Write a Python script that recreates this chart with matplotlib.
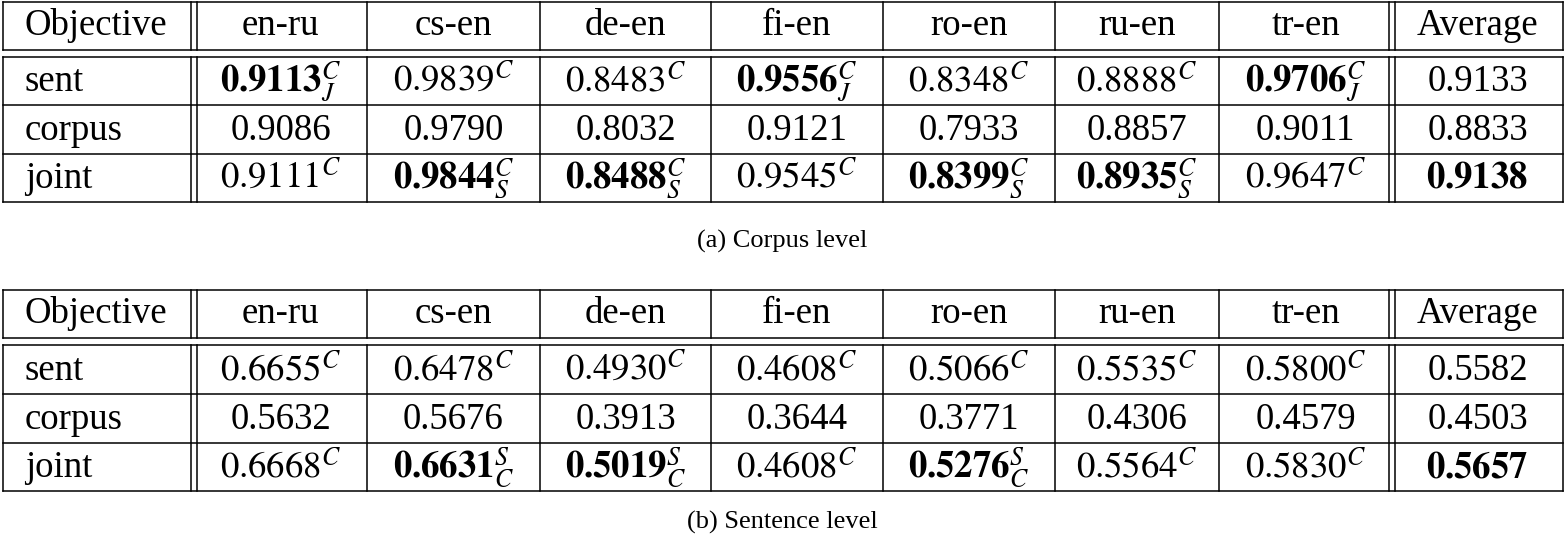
import matplotlib
matplotlib.use("Agg")
import matplotlib.pyplot as plt

plt.rcParams['mathtext.fontset'] = 'stix'

headers = ["Objective", "en-ru", "cs-en", "de-en", "fi-en", "ro-en", "ru-en", "tr-en", "Average"]
rows = ["sent", "corpus", "joint"]
corpus_vals = [
    [r"$\mathbf{0.9113}^{C}_{J}$", r"$\mathrm{0.9839}^{C}$", r"$\mathrm{0.8483}^{C}$", r"$\mathbf{0.9556}^{C}_{J}$", r"$\mathrm{0.8348}^{C}$", r"$\mathrm{0.8888}^{C}$", r"$\mathbf{0.9706}^{C}_{J}$", "0.9133"],
    ["0.9086", "0.9790", "0.8032", "0.9121", "0.7933", "0.8857", "0.9011", "0.8833"],
    [r"$\mathrm{0.9111}^{C}$", r"$\mathbf{0.9844}^{C}_{S}$", r"$\mathbf{0.8488}^{C}_{S}$", r"$\mathrm{0.9545}^{C}$", r"$\mathbf{0.8399}^{C}_{S}$", r"$\mathbf{0.8935}^{C}_{S}$", r"$\mathrm{0.9647}^{C}$", r"$\mathbf{0.9138}$"],
]
sentence_vals = [
    [r"$\mathrm{0.6655}^{C}$", r"$\mathrm{0.6478}^{C}$", r"$\mathrm{0.4930}^{C}$", r"$\mathrm{0.4608}^{C}$", r"$\mathrm{0.5066}^{C}$", r"$\mathrm{0.5535}^{C}$", r"$\mathrm{0.5800}^{C}$", "0.5582"],
    ["0.5632", "0.5676", "0.3913", "0.3644", "0.3771", "0.4306", "0.4579", "0.4503"],
    [r"$\mathrm{0.6668}^{C}$", r"$\mathbf{0.6631}^{S}_{C}$", r"$\mathbf{0.5019}^{S}_{C}$", r"$\mathrm{0.4608}^{C}$", r"$\mathbf{0.5276}^{S}_{C}$", r"$\mathrm{0.5564}^{C}$", r"$\mathrm{0.5830}^{C}$", r"$\mathbf{0.5657}$"],
]
captions = ["(a) Corpus level", "(b) Sentence level"]

fig = plt.figure(figsize=(15.65, 5.36), dpi=100)
ax = fig.add_axes([0, 0, 1, 1])
ax.set_xlim(0, 1565)
ax.set_ylim(536, 0)
ax.axis('off')

xb = [3, 194, 367, 540, 711, 883, 1055, 1219, 1392, 1563]
FS = 26.5
lw = 1.1
SERIF = 'Liberation Serif'

def draw_table(top, hb, h2, r1, r2, bot, vals, cap, capy):
    k = dict(color='black', lw=lw)
    for y in [top, hb, h2, r1, r2, bot]:
        ax.plot([xb[0], xb[-1]], [y, y], **k)
    for i, x in enumerate(xb):
        for a, b in [(top, hb), (h2, bot)]:
            if i in (1, 8):
                ax.plot([x - 3, x - 3], [a, b], **k)
                ax.plot([x + 3, x + 3], [a, b], **k)
            else:
                ax.plot([x, x], [a, b], **k)
    by = [hb - 15, r1 - 14, r2 - 14, bot - 14]
    for j, h in enumerate(headers):
        if j == 0:
            ax.text(25, by[0], h, fontsize=FS, family=SERIF, va='baseline', ha='left')
        else:
            ax.text((xb[j] + xb[j + 1]) / 2, by[0], h, fontsize=FS, family=SERIF, va='baseline', ha='center')
    for r, name in enumerate(rows):
        ax.text(25, by[r + 1], name, fontsize=FS, family=SERIF, va='baseline', ha='left')
        for j, v in enumerate(vals[r]):
            xc = (xb[j + 1] + xb[j + 2]) / 2
            ax.text(xc, by[r + 1], v, fontsize=FS, family=SERIF, va='baseline', ha='center')
    ax.text(782, capy, cap, fontsize=19, family=SERIF, va='baseline', ha='center')

draw_table(2, 50, 57, 105, 154, 202, corpus_vals, captions[0], 248)
draw_table(290, 338, 345, 394, 443, 491, sentence_vals, captions[1], 529)

fig.savefig("out.png", dpi=100)
